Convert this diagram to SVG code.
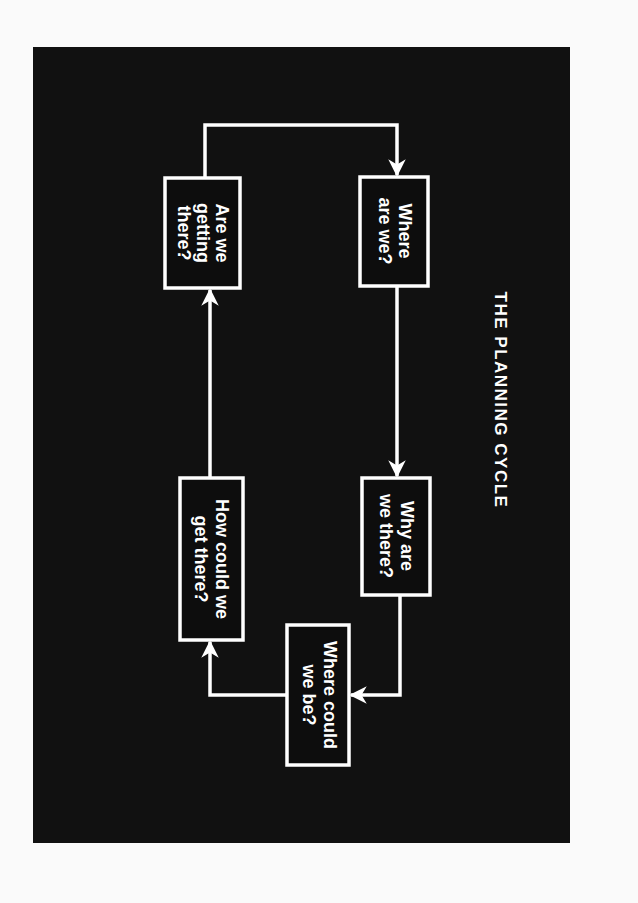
<svg xmlns="http://www.w3.org/2000/svg" width="638" height="903" viewBox="0 0 638 903">
<style>
.box{fill:#0d0d0d;stroke:#fff;stroke-width:3.5}
.t{font-family:"Liberation Sans",Arial,sans-serif;font-weight:bold;font-size:18px;fill:#fff;text-anchor:middle}
.c{fill:none;stroke:#fff;stroke-width:3.5}
</style>
<defs>
<marker id="a" viewBox="0 0 10 10" refX="9" refY="5" markerWidth="5" markerHeight="5" orient="auto" markerUnits="strokeWidth">
<path d="M0,0 L10,5 L0,10 L3,5 Z" fill="#fff"/>
</marker>
</defs>
<rect width="638" height="903" fill="#fafafa"/>
<rect x="33" y="47" width="537" height="796" fill="#111"/>
<g id="title"><text class="t" style="font-size:17px;letter-spacing:1.5px" transform="translate(501,400) rotate(90)" y="6">THE PLANNING CYCLE</text></g>
<g id="connectors">
<path class="c" d="M205,178 V125 H397 V175" marker-end="url(#a)"/>
<path class="c" d="M397,286 V476" marker-end="url(#a)"/>
<path class="c" d="M400,595 V695 H351" marker-end="url(#a)"/>
<path class="c" d="M287,695 H210 V642" marker-end="url(#a)"/>
<path class="c" d="M210,478 V290" marker-end="url(#a)"/>
</g>
<g id="n1"><rect class="box" x="360" y="177" width="68" height="109"/>
<text class="t" transform="translate(394,231) rotate(90)"><tspan x="0" y="-5">Where</tspan><tspan x="0" y="15">are we?</tspan></text></g>
<g id="n2"><rect class="box" x="165" y="178" width="75" height="110"/>
<text class="t" transform="translate(202,233) rotate(90)"><tspan x="0" y="-14">Are we</tspan><tspan x="0" y="5">getting</tspan><tspan x="0" y="24">there?</tspan></text></g>
<g id="n3"><rect class="box" x="362" y="478" width="68" height="117"/>
<text class="t" transform="translate(396,536) rotate(90)"><tspan x="0" y="-5">Why are</tspan><tspan x="0" y="16">we there?</tspan></text></g>
<g id="n4"><rect class="box" x="180" y="478" width="63" height="162"/>
<text class="t" transform="translate(211,559) rotate(90)"><tspan x="0" y="-5">How could we</tspan><tspan x="0" y="16">get there?</tspan></text></g>
<g id="n5"><rect class="box" x="287" y="625" width="62" height="140"/>
<text class="t" transform="translate(318,695) rotate(90)"><tspan x="0" y="-6">Where could</tspan><tspan x="0" y="15">we be?</tspan></text></g>
</svg>
